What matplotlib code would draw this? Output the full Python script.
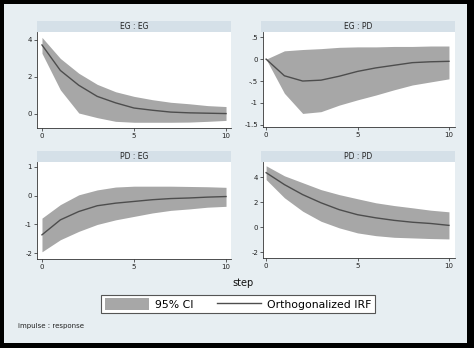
import numpy as np
import matplotlib.pyplot as plt
from matplotlib.patches import Rectangle, Patch
from matplotlib.lines import Line2D

#-------------------------------------------------------
# orthogonalized impulse responses, steps 0..10
steps = np.arange(0, 11)

eg_eg_irf = [3.73, 2.35, 1.55, 0.95, 0.6, 0.32, 0.2, 0.1, 0.06, 0.04, 0.02]
eg_eg_hi = [4.14, 3.0, 2.2, 1.6, 1.2, 0.95, 0.77, 0.63, 0.55, 0.45, 0.4]
eg_eg_lo = [3.28, 1.3, 0.05, -0.2, -0.4, -0.45, -0.45, -0.45, -0.44, -0.4, -0.35]

eg_pd_irf = [0.0, -0.38, -0.5, -0.48, -0.39, -0.28, -0.2, -0.14, -0.08, -0.06, -0.05]
eg_pd_hi = [0.0, 0.19, 0.22, 0.24, 0.27, 0.28, 0.28, 0.29, 0.29, 0.3, 0.3]
eg_pd_lo = [0.0, -0.78, -1.24, -1.2, -1.05, -0.93, -0.82, -0.7, -0.59, -0.52, -0.45]

pd_eg_irf = [-1.36, -0.84, -0.55, -0.35, -0.26, -0.2, -0.14, -0.1, -0.08, -0.05, -0.03]
pd_eg_hi = [-0.78, -0.31, 0.03, 0.2, 0.3, 0.33, 0.33, 0.33, 0.32, 0.31, 0.29]
pd_eg_lo = [-1.95, -1.53, -1.24, -1.0, -0.84, -0.72, -0.6, -0.51, -0.46, -0.4, -0.37]

pd_pd_irf = [4.35, 3.4, 2.6, 1.95, 1.4, 1.0, 0.75, 0.55, 0.4, 0.3, 0.15]
pd_pd_hi = [4.9, 4.1, 3.55, 3.0, 2.6, 2.27, 1.95, 1.73, 1.55, 1.36, 1.23]
pd_pd_lo = [3.8, 2.35, 1.28, 0.48, -0.05, -0.45, -0.67, -0.8, -0.85, -0.9, -0.93]

titles = ['EG : EG', 'EG : PD', 'PD : EG', 'PD : PD']
yticks = [[0, 2, 4], [-1.5, -1, -0.5, 0, 0.5], [-2, -1, 0, 1], [-2, 0, 2, 4]]
yticklabels = [['0', '2', '4'], ['-1.5', '-1', '-.5', '0', '.5'],
               ['-2', '-1', '0', '1'], ['-2', '0', '2', '4']]
#-------------------------------------------------------

W, H = 474, 348
bg = '#e7eef2'
bar = '#d5e0e8'
band = '#a7a7a7'
line = '#4d4d4d'

fig = plt.figure(figsize=(W / 100, H / 100), dpi=100, facecolor='black')
fig.patches.append(Rectangle((4 / W, 5 / H), 463 / W, 339 / H, transform=fig.transFigure,
                             facecolor=bg, edgecolor='none', zorder=-5))

# panel boxes in pixels: left, top, right, bottom, xlim, ylim
boxes = [
    (37, 32, 231, 128, (-0.27, 10.27), (-0.76, 4.43)),
    (263, 32, 455, 127, (-0.17, 10.33), (-1.55, 0.62)),
    (37, 162, 231, 259, (-0.27, 10.27), (-2.2, 1.17)),
    (263, 162, 455, 258, (-0.17, 10.33), (-2.45, 5.2)),
]
series = [
    (eg_eg_irf, eg_eg_lo, eg_eg_hi),
    (eg_pd_irf, eg_pd_lo, eg_pd_hi),
    (pd_eg_irf, pd_eg_lo, pd_eg_hi),
    (pd_pd_irf, pd_pd_lo, pd_pd_hi),
]

for i, (l, t, r, b, xl, yl) in enumerate(boxes):
    ax = fig.add_axes([l / W, 1 - b / H, (r - l) / W, (b - t) / H], zorder=2)
    irf, lo, hi = series[i]
    ax.fill_between(steps, lo, hi, color=band, linewidth=0)
    ax.plot(steps, irf, color=line, lw=1.0)
    ax.set_xlim(xl)
    ax.set_ylim(yl)
    ax.set_xticks([0, 5, 10])
    ax.set_yticks(yticks[i])
    ax.set_yticklabels(yticklabels[i])
    ax.set_facecolor('white')
    for s in ['top', 'right']:
        ax.spines[s].set_visible(False)
    for s in ['left', 'bottom']:
        ax.spines[s].set_color('#333333')
        ax.spines[s].set_linewidth(0.6)
    ax.tick_params(labelsize=5, length=2, width=0.5, pad=1.5, colors='#222222')

    # title strip above each panel
    th = 11
    tl = l if i in (0, 2) else l - 2
    fig.patches.append(Rectangle((tl / W, 1 - t / H), (r - tl) / W, th / H,
                                 transform=fig.transFigure, facecolor=bar,
                                 edgecolor='none', zorder=1))
    fig.text((tl + r) / 2 / W, 1 - (t - th / 2) / H, titles[i], ha='center',
             va='center', fontsize=5.5, color='#222222')

fig.text(243 / W, 1 - 283 / H, 'step', ha='center', va='center', fontsize=7, color='#111111')
fig.text(18 / W, 1 - 326 / H, 'impulse : response', ha='left', va='center',
         fontsize=5, color='#222222')

handles = [Patch(facecolor=band, edgecolor='none'), Line2D([], [], color=line, lw=1.0)]
leg = fig.legend(handles, ['95% CI', 'Orthogonalized IRF'], loc='center',
                 bbox_to_anchor=(238 / W, 1 - 304 / H), ncol=2, fontsize=7.8,
                 handlelength=4.1, handleheight=1.2, handletextpad=0.5,
                 columnspacing=2.2, fancybox=False, framealpha=1, borderpad=0.35)
leg.get_frame().set_edgecolor('#555555')
leg.get_frame().set_linewidth(0.8)

fig.savefig('out.png', dpi=100, facecolor=fig.get_facecolor())
